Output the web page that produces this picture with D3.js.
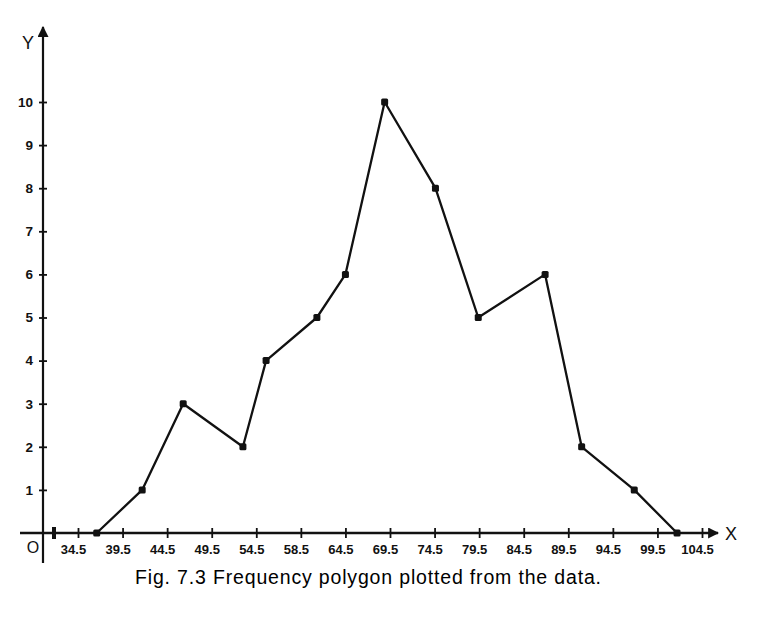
<!DOCTYPE html>
<html>
<head>
<meta charset="utf-8">
<script src="https://cdn.jsdelivr.net/npm/d3@7"></script>
<style>
  html, body { margin: 0; padding: 0; background: #fff; }
  svg { display: block; }
  .tick text { font-family: "Liberation Sans", Arial, sans-serif; font-weight: bold; fill: #111; }
</style>
</head>
<body>
<div id="chart-container"></div>
<script>
// class boundaries on the x axis (as printed in the figure)
const xTickValues = [34.5, 39.5, 44.5, 49.5, 54.5, 59.5, 64.5, 69.5, 74.5, 79.5, 84.5, 89.5, 94.5, 99.5, 104.5];
const xTickLabels = ['34.5', '39.5', '44.5', '49.5', '54.5', '58.5', '64.5', '69.5', '74.5', '79.5', '84.5', '89.5', '94.5', '99.5', '104.5'];
const yTickValues = [1, 2, 3, 4, 5, 6, 7, 8, 9, 10];

// polygon vertices
const pointX = [36.6, 41.7, 46.3, 53.0, 55.6, 61.3, 64.5, 68.9, 74.6, 79.4, 86.9, 91.0, 96.9, 101.7];
const frequency = [0, 1, 3, 2, 4, 5, 6, 10, 8, 5, 6, 2, 1, 0];

const W = 768, H = 626;
const originX = 43;

const x = d3.scaleLinear().domain([34.5, 104.5]).range([78, 702]);
const y = d3.scaleLinear().domain([0, 10]).range([533, 102]);

const svg = d3.select('#chart-container').append('svg')
    .attr('width', W)
    .attr('height', H);

// arrow head marker for both axes
svg.append('defs').append('marker')
    .attr('id', 'arrow')
    .attr('viewBox', '0 0 10 10')
    .attr('refX', 9)
    .attr('refY', 5)
    .attr('markerWidth', 11)
    .attr('markerHeight', 11)
    .attr('markerUnits', 'userSpaceOnUse')
    .attr('orient', 'auto')
    .append('path')
    .attr('d', 'M0,0 L10,5 L0,10 Z')
    .attr('fill', '#111');

// x axis
const xAxis = d3.axisBottom(x)
    .tickValues(xTickValues)
    .tickFormat((d, i) => xTickLabels[i])
    .tickSizeOuter(0);

const xAxisGroup = svg.append('g')
    .attr('transform', `translate(0,${y(0)})`)
    .call(xAxis);
xAxisGroup.select('.domain').remove();
xAxisGroup.selectAll('.tick line')
    .attr('y1', -5).attr('y2', 5)
    .attr('stroke', '#111').attr('stroke-width', 1.8);
xAxisGroup.selectAll('.tick text')
    .attr('y', 12)
    .attr('dx', -5)
    .attr('font-size', 13);

svg.append('line')
    .attr('x1', 20).attr('x2', 718)
    .attr('y1', y(0)).attr('y2', y(0))
    .attr('stroke', '#111').attr('stroke-width', 2.4)
    .attr('marker-end', 'url(#arrow)');

// break mark next to the origin
svg.append('rect')
    .attr('x', 52).attr('y', y(0) - 6)
    .attr('width', 4).attr('height', 12)
    .attr('fill', '#111');

// y axis
const yAxis = d3.axisLeft(y)
    .tickValues(yTickValues)
    .tickFormat(d3.format('d'))
    .tickSizeOuter(0);

const yAxisGroup = svg.append('g')
    .attr('transform', `translate(${originX},0)`)
    .call(yAxis);
yAxisGroup.select('.domain').remove();
yAxisGroup.selectAll('.tick line')
    .attr('x1', -4).attr('x2', 4)
    .attr('stroke', '#111').attr('stroke-width', 1.8);
yAxisGroup.selectAll('.tick text')
    .attr('x', -10)
    .attr('font-size', 13.5);

svg.append('line')
    .attr('x1', originX).attr('x2', originX)
    .attr('y1', 563).attr('y2', 27)
    .attr('stroke', '#111').attr('stroke-width', 2.2)
    .attr('marker-end', 'url(#arrow)');

// axis letters
const labelFont = '"Liberation Sans", Arial, sans-serif';
svg.append('text').attr('x', 28).attr('y', 49)
    .attr('text-anchor', 'middle').attr('font-family', labelFont)
    .attr('font-size', 18).attr('fill', '#111').text('Y');
svg.append('text').attr('x', 731).attr('y', 540)
    .attr('text-anchor', 'middle').attr('font-family', labelFont)
    .attr('font-size', 18).attr('fill', '#111').text('X');
svg.append('text').attr('x', 33).attr('y', 553)
    .attr('text-anchor', 'middle').attr('font-family', labelFont)
    .attr('font-size', 16).attr('fill', '#111').text('O');

// frequency polygon
const points = pointX.map((d, i) => ({ x: d, f: frequency[i] }));

const line = d3.line()
    .x(d => x(d.x))
    .y(d => y(d.f));

svg.append('path')
    .datum(points)
    .attr('d', line)
    .attr('fill', 'none')
    .attr('stroke', '#111')
    .attr('stroke-width', 2.3)
    .attr('stroke-linejoin', 'round');

svg.selectAll('.dot')
    .data(points)
    .enter()
    .append('rect')
    .attr('class', 'dot')
    .attr('x', d => x(d.x) - 3.5)
    .attr('y', d => y(d.f) - 3.5)
    .attr('width', 7)
    .attr('height', 7)
    .attr('rx', 1.5)
    .attr('fill', '#111');

// caption
svg.append('text')
    .attr('x', 135)
    .attr('y', 584)
    .attr('font-family', labelFont)
    .attr('font-size', 19.5)
    .attr('textLength', 466)
    .attr('lengthAdjust', 'spacing')
    .attr('fill', '#000')
    .text('Fig. 7.3 Frequency polygon plotted from the data.');
</script>
</body>
</html>
